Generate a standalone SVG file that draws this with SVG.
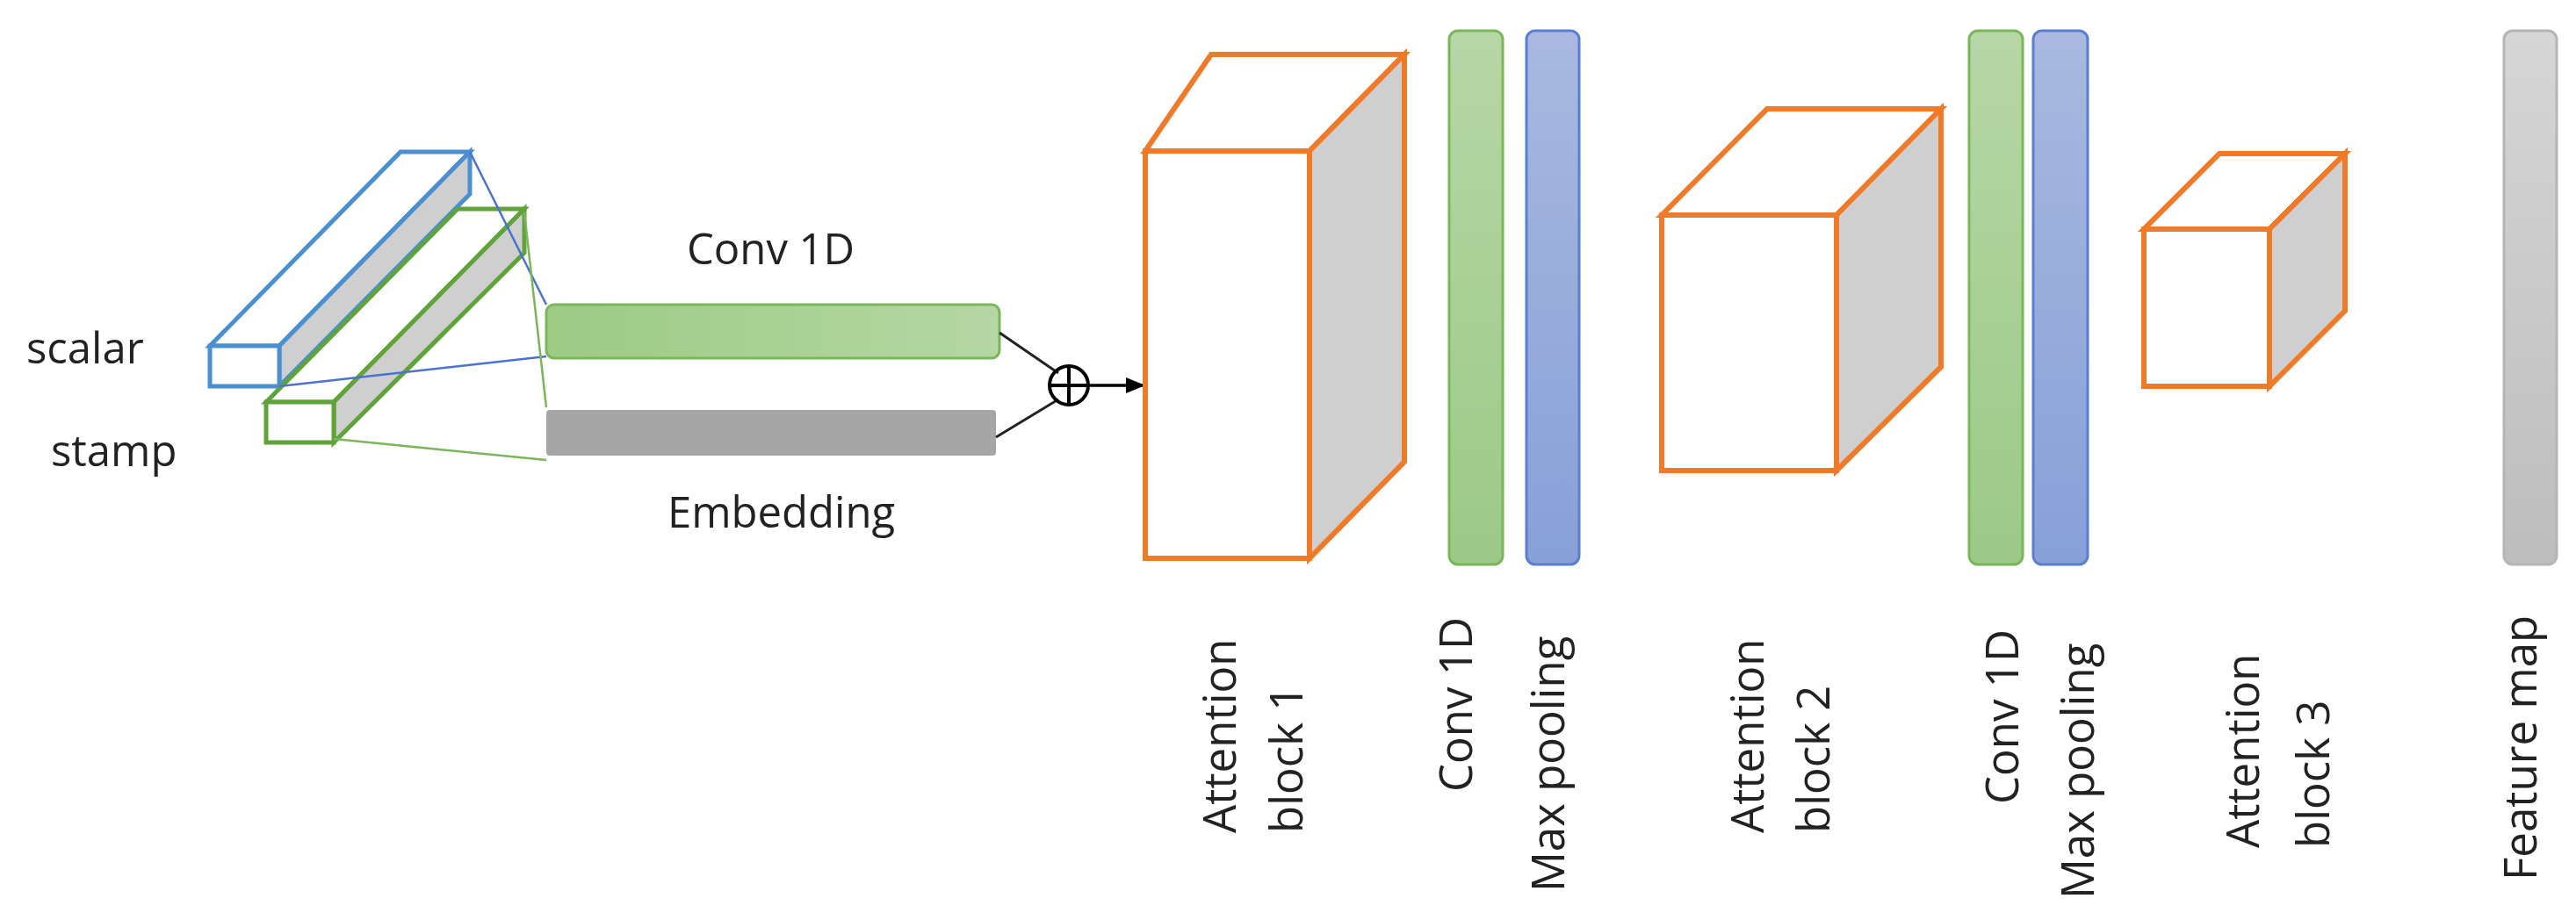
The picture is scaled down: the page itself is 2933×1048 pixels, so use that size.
<svg xmlns="http://www.w3.org/2000/svg" width="2933" height="1048" viewBox="0 0 2933 1048">
<defs>
<linearGradient id="gh" x1="0" x2="1" y1="0" y2="0"><stop offset="0" stop-color="#9ccb84"/><stop offset="1" stop-color="#b5d7a4"/></linearGradient>
<linearGradient id="gv" x1="0" x2="0" y1="0" y2="1"><stop offset="0" stop-color="#b6d7a6"/><stop offset="1" stop-color="#9cc987"/></linearGradient>
<linearGradient id="bv" x1="0" x2="0" y1="0" y2="1"><stop offset="0" stop-color="#a9b9df"/><stop offset="1" stop-color="#87a0d8"/></linearGradient>
<linearGradient id="fv" x1="0" x2="0" y1="0" y2="1"><stop offset="0" stop-color="#d6d6d6"/><stop offset="1" stop-color="#bdbdbd"/></linearGradient>
<marker id="arr" markerWidth="22" markerHeight="22" refX="20" refY="11" orient="auto" markerUnits="userSpaceOnUse" viewBox="0 0 22 22"><path d="M0,2 L22,11 L0,20 z" fill="#000"/></marker>
</defs>
<style>
.t{font-family:"Open Sans","Liberation Sans",sans-serif;font-size:49px;fill:#222}
.r{font-family:"Open Sans","Liberation Sans",sans-serif;font-size:51px;fill:#222}
.box{fill:#fff;stroke:#f07a28;stroke-width:6;stroke-linejoin:miter}
.side{fill:#cfcfcf;stroke:#f07a28;stroke-width:6}
</style>
<rect width="2933" height="1048" fill="#fff"/>
<g id="scalar">
<polygon points="239,394 456,173 535,173 318,394" fill="#fff" stroke="#4a90d0" stroke-width="5"/>
<polygon points="318,394 535,173 535,221 318,440" fill="#cfcfcf" stroke="#4a90d0" stroke-width="5"/>
<rect x="239" y="394" width="79" height="46" fill="#fff" stroke="#4a90d0" stroke-width="5"/>
</g>
<g id="stamp">
<polygon points="303,458 521,238 597,238 380,458" fill="#fff" stroke="#5fa33a" stroke-width="5"/>
<polygon points="380,458 597,238 597,288 380,504" fill="#cfcfcf" stroke="#5fa33a" stroke-width="5"/>
<rect x="303" y="458" width="77" height="46" fill="#fff" stroke="#5fa33a" stroke-width="5"/>
</g>
<g id="conv-embed">
<rect x="622" y="347" width="516" height="61" rx="9" fill="url(#gh)" stroke="#7ab75a" stroke-width="3"/>
</g>
<g id="embedding">
<rect x="622" y="467" width="512" height="52" rx="4" fill="#a6a6a6"/>
</g>
<g id="connectors" fill="none">
<line x1="535" y1="173" x2="622" y2="347" stroke="#4a72d0" stroke-width="2.5"/>
<line x1="318" y1="440" x2="622" y2="406" stroke="#4a72d0" stroke-width="2.5"/>
<line x1="597" y1="242" x2="622" y2="464" stroke="#7ab75a" stroke-width="2.5"/>
<line x1="380" y1="500" x2="622" y2="524" stroke="#7ab75a" stroke-width="2.5"/>
<line x1="1138" y1="379" x2="1205" y2="425" stroke="#222" stroke-width="3"/>
<line x1="1134" y1="498" x2="1205" y2="455" stroke="#222" stroke-width="3"/>
<circle cx="1217" cy="439" r="22" stroke="#000" stroke-width="4"/>
<line x1="1195" y1="439" x2="1239" y2="439" stroke="#000" stroke-width="4"/>
<line x1="1217" y1="417" x2="1217" y2="461" stroke="#000" stroke-width="4"/>
<line x1="1239" y1="439" x2="1302" y2="439" stroke="#000" stroke-width="3.5" marker-end="url(#arr)"/>
</g>
<g id="att1">
<polygon class="box" points="1304,172 1379,62 1599,62 1491,172"/>
<polygon class="side" points="1491,172 1599,62 1599,526 1491,636"/>
<rect class="box" x="1304" y="172" width="187" height="464"/>
</g>
<g id="conv1"><rect x="1650" y="35" width="61" height="608" rx="10" fill="url(#gv)" stroke="#7ab75a" stroke-width="3"/></g>
<g id="pool1"><rect x="1738" y="35" width="60" height="608" rx="10" fill="url(#bv)" stroke="#5a7fd0" stroke-width="3"/></g>
<g id="att2">
<polygon class="box" points="1892,245 2012,124 2210,124 2091,245"/>
<polygon class="side" points="2091,245 2210,124 2210,418 2091,536"/>
<rect class="box" x="1892" y="245" width="199" height="291"/>
</g>
<g id="conv2"><rect x="2242" y="35" width="61" height="608" rx="10" fill="url(#gv)" stroke="#7ab75a" stroke-width="3"/></g>
<g id="pool2"><rect x="2315" y="35" width="62" height="608" rx="10" fill="url(#bv)" stroke="#5a7fd0" stroke-width="3"/></g>
<g id="att3">
<polygon class="box" points="2441,261 2527,175 2670,175 2584,261"/>
<polygon class="side" points="2584,261 2670,175 2670,354 2584,440"/>
<rect class="box" x="2441" y="261" width="143" height="179"/>
</g>
<g id="feature"><rect x="2851" y="35" width="60" height="608" rx="10" fill="url(#fv)" stroke="#b5b5b5" stroke-width="3"/></g>
<g id="labels">
<text class="t" x="30" y="414">scalar</text>
<text class="t" x="58" y="531">stamp</text>
<text class="t" x="782" y="301">Conv 1D</text>
<text class="t" x="760" y="601">Embedding</text>
<text class="r" transform="translate(1407,949) rotate(-90)">Attention</text>
<text class="r" transform="translate(1483,949) rotate(-90)">block 1</text>
<text class="r" transform="translate(1676,902) rotate(-90)">Conv 1D</text>
<text class="r" transform="translate(1781,1016) rotate(-90)">Max pooling</text>
<text class="r" transform="translate(2008,949) rotate(-90)">Attention</text>
<text class="r" transform="translate(2083,949) rotate(-90)">block 2</text>
<text class="r" transform="translate(2298,916) rotate(-90)">Conv 1D</text>
<text class="r" transform="translate(2384,1024) rotate(-90)">Max pooling</text>
<text class="r" transform="translate(2572,966) rotate(-90)">Attention</text>
<text class="r" transform="translate(2652,966) rotate(-90)">block 3</text>
<text class="r" transform="translate(2888,1003) rotate(-90)">Feature map</text>
</g>
</svg>
